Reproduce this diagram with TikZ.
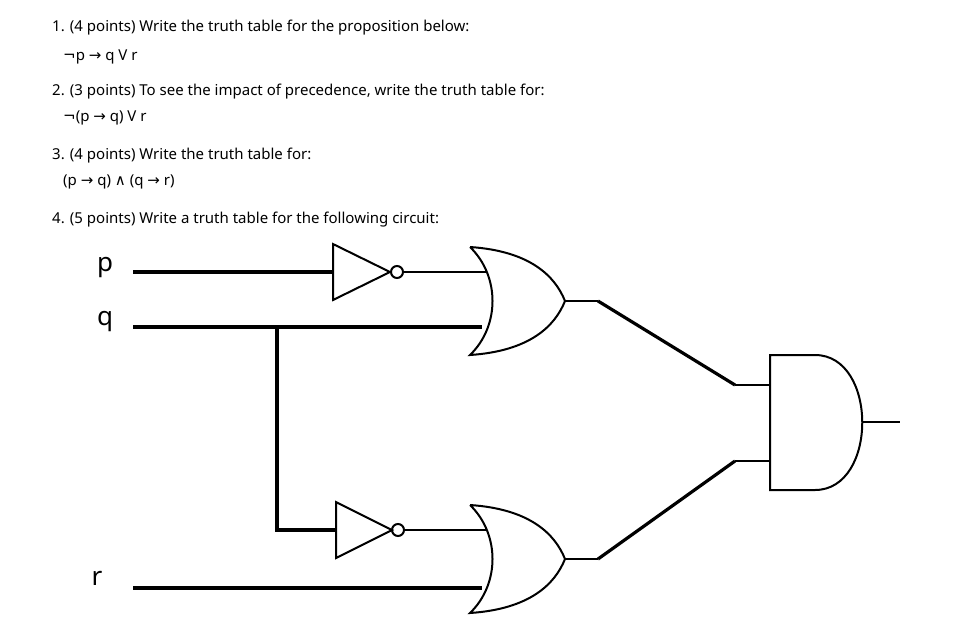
\documentclass[tikz,border=0pt]{standalone}
\usepackage{fontspec}
\setmainfont{Noto Sans}
\newfontfamily\symf{DejaVu Sans}
\begin{document}
\begin{tikzpicture}[x=1pt,y=-1pt,
  txt/.style={anchor=west,font=\fontsize{15}{17}\selectfont,inner sep=0},
  lbl/.style={font=\fontsize{26}{28}\selectfont,inner sep=0},
  wire/.style={line width=3.2pt},
  thin/.style={line width=2pt},
  gate/.style={line width=2pt}]
\fill[white] (0,0) rectangle (960,630);
\useasboundingbox (0,0) rectangle (960,630);
\node[txt] (t1) at (52,28) {1. (4 points) Write the truth table for the proposition below:};
\node[txt] (f1) at (63,57) {{\symf ¬}p {\symf →} q V r};
\node[txt] (t2) at (52,92) {2. (3 points) To see the impact of precedence, write the truth table for:};
\node[txt] (f2) at (63,118) {{\symf ¬}(p {\symf →} q) V r};
\node[txt] (t3) at (52,156) {3. (4 points) Write the truth table for:};
\node[txt] (f3) at (63,182) {(p {\symf →} q) {\symf ∧} (q {\symf →} r)};
\node[txt] (t4) at (52,220) {4. (5 points) Write a truth table for the following circuit:};
\node[lbl] (p) at (105,268) {p};
\node[lbl] (q) at (105,322) {q};
\node[lbl] (r) at (97,578) {r};
\draw[wire] (133,272) -- (333,272);
\draw[gate] (333,244) -- (333,300) -- (390,272) -- cycle;
\draw[gate] (397,272) circle (6);
\draw[wire] (133,327) -- (482,327);
\draw[wire] (277,327) -- (277,530) -- (336,530);
\draw[gate] (336,502) -- (336,558) -- (392,530) -- cycle;
\draw[gate] (398,530) circle (6);
\draw[wire] (133,588) -- (482,588);
\foreach \yy/\nm in {301/or1,559/or2}{
  \draw[gate,fill=white] (470,\yy-54) .. controls (500,\yy-25) and (500,\yy+25) .. (470,\yy+54)
    .. controls (530,\yy+50) and (555,\yy+25) .. (565,\yy)
    .. controls (555,\yy-25) and (530,\yy-50) .. (470,\yy-54);
  \coordinate (\nm) at (565,\yy);
}
\draw[thin] (403,272) -- (487,272);
\draw[thin] (404,530) -- (487,530);
\draw[gate] (815,355) -- (770,355) -- (770,490) -- (815,490)
  .. controls (878,490) and (878,355) .. (815,355);
\coordinate (and) at (862,422);
\draw[thin] (and) -- (900,422);
\draw[thin] (or1) -- (598,301);
\draw[wire] (598,301) -- (735,385);
\draw[thin] (735,385) -- (770,385);
\draw[thin] (or2) -- (598,559);
\draw[wire] (598,559) -- (735,461);
\draw[thin] (735,461) -- (770,461);
\end{tikzpicture}
\end{document}
